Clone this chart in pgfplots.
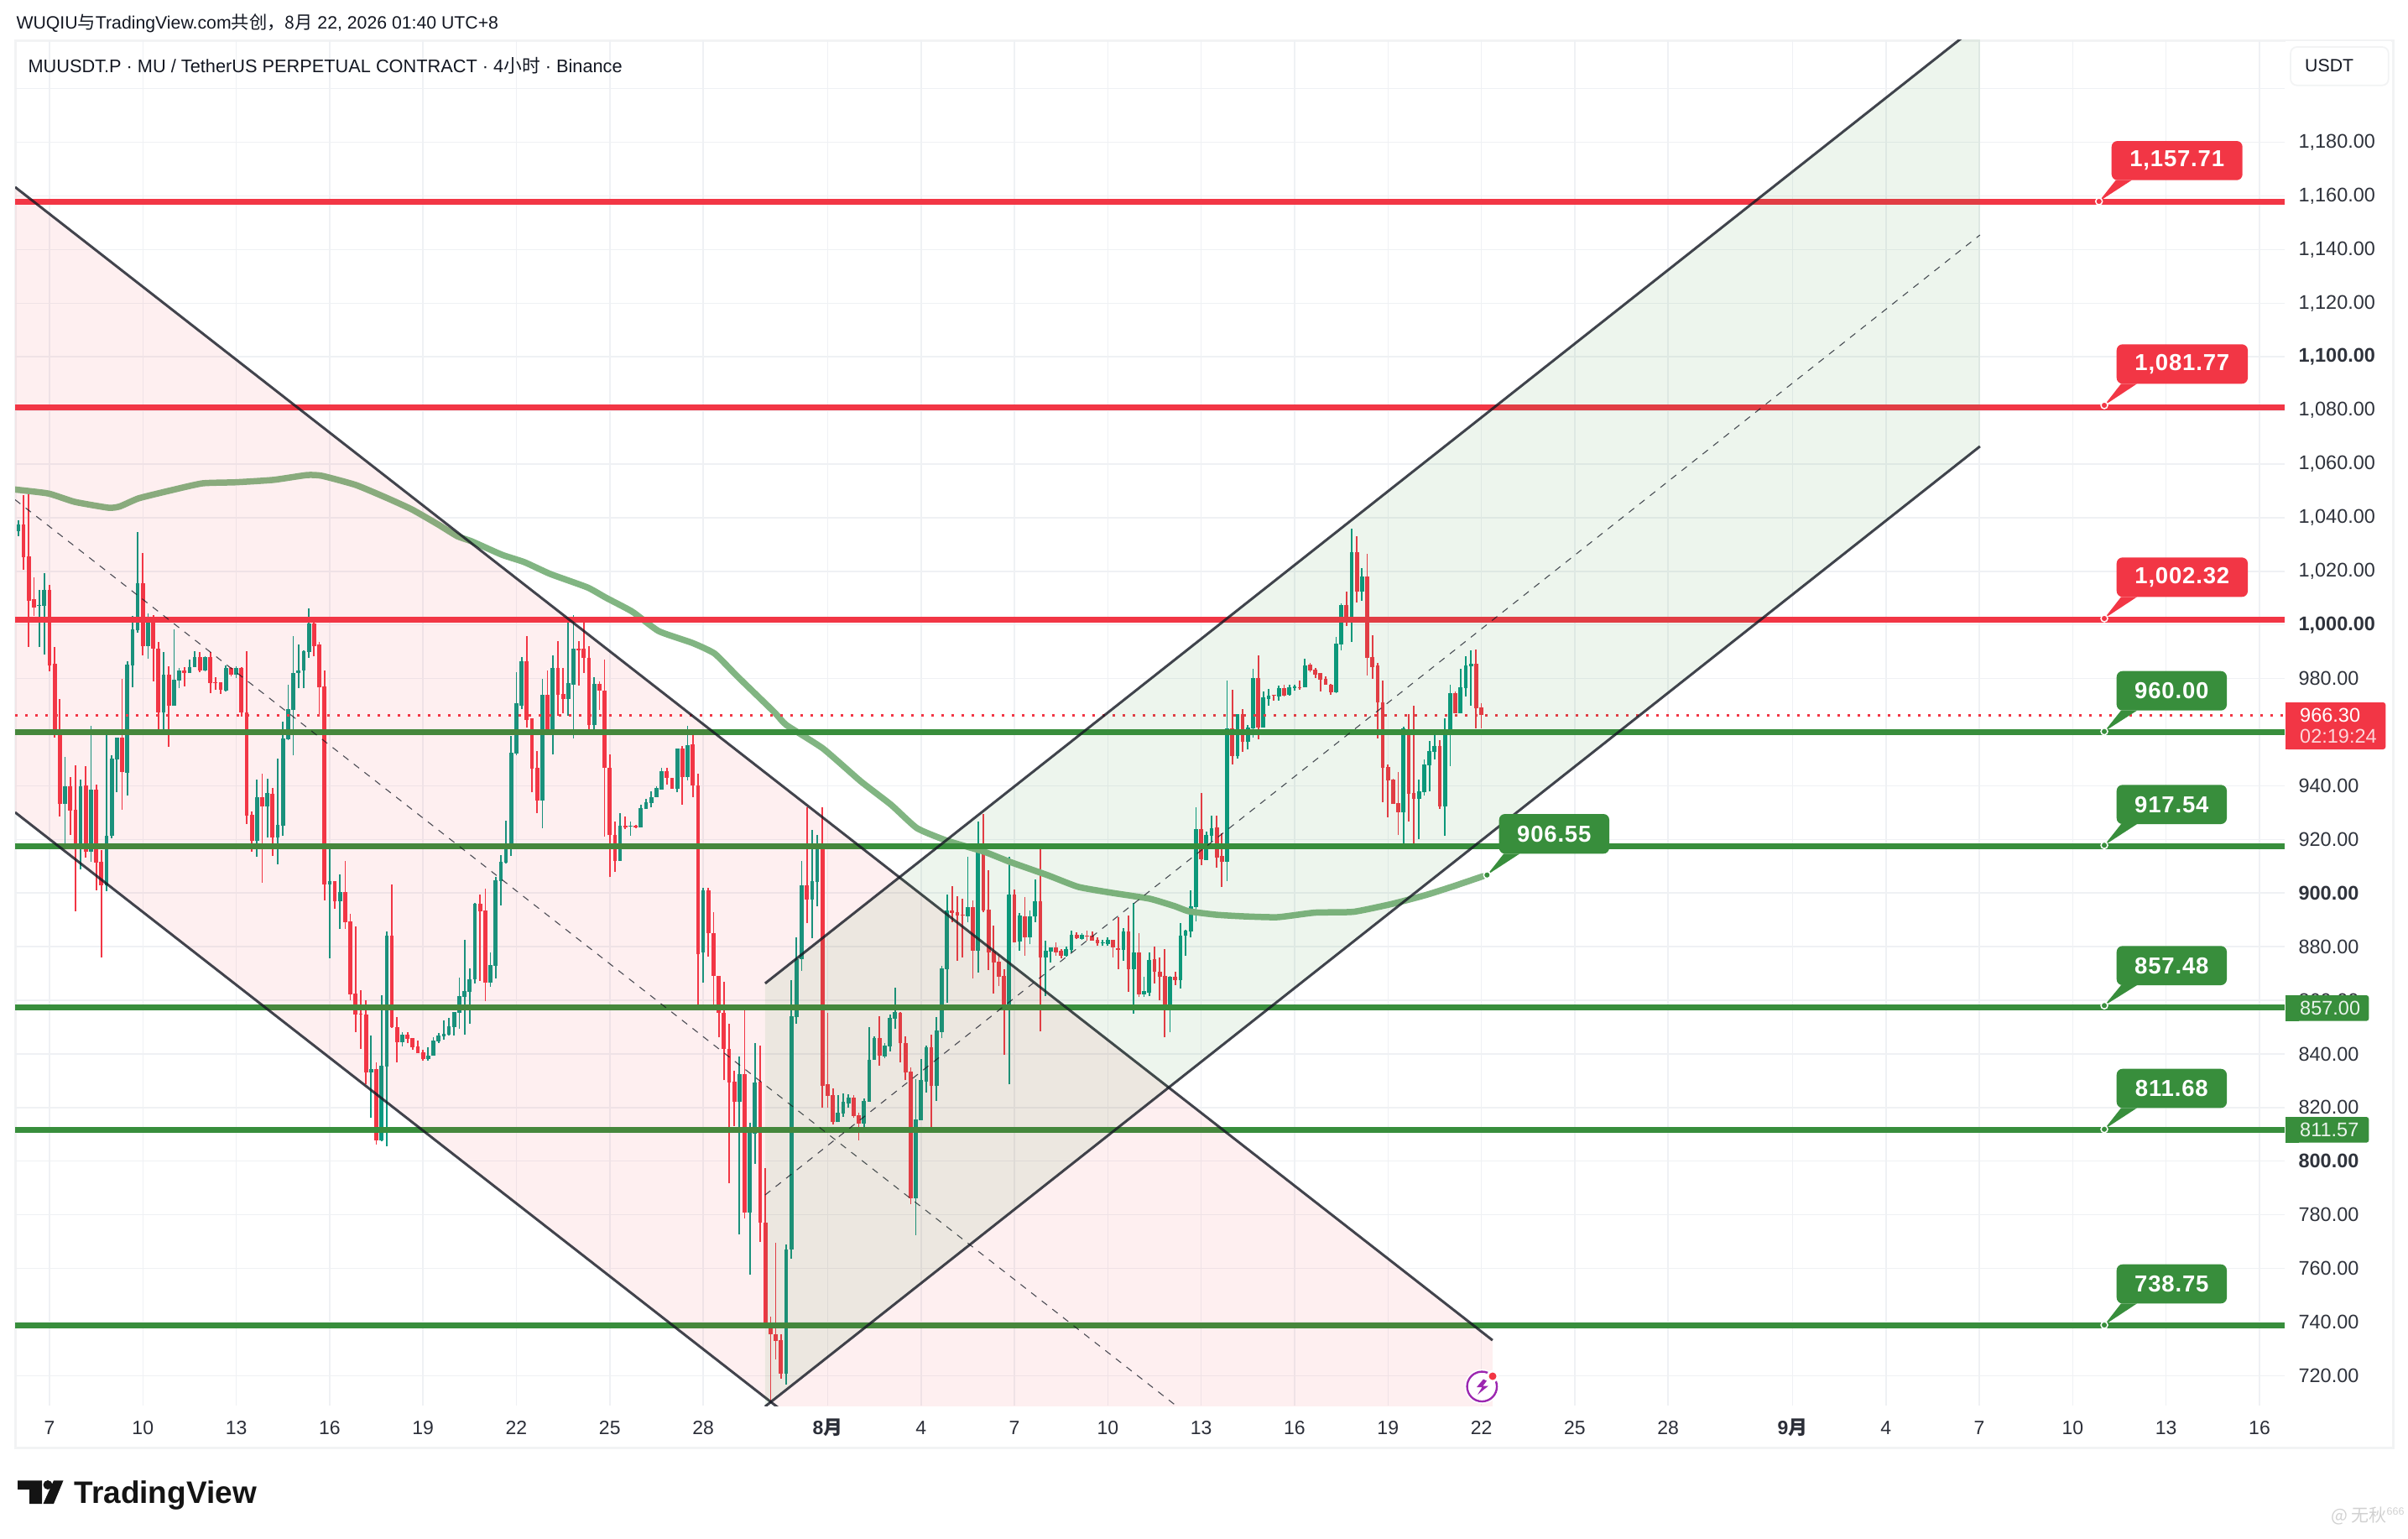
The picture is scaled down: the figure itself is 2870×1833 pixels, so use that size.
\documentclass[border=0pt]{standalone}
\usepackage{pgfplots}
\usepackage{pgfplotstable}
\usepackage{fontspec}
\pgfplotsset{compat=1.18}
\setmainfont{Liberation Sans}
\newfontfamily\cjk{Noto Sans CJK SC}
\newfontfamily\lab[LetterSpace=3]{Liberation Sans}
\definecolor{cg}{HTML}{089981}
\definecolor{cr}{HTML}{F23645}
\definecolor{lg}{HTML}{388E3C}
\definecolor{ma}{HTML}{81B582}
\definecolor{gridc}{HTML}{EFF1F4}
\definecolor{framec}{HTML}{F2F3F4}
\definecolor{txt}{HTML}{131722}
\pgfplotstableread{
i o h l c
0 1035 1039 1033.1 1037.6
1 1037.6 1048.4 1020.5 1025.4
2 1025.7 1050.1 991.8 1009.1
3 1009.5 1017.9 1003.2 1006.6
4 1007 1012.9 991.9 1007.3
5 1007 1019.4 988.9 1012.9
6 1012.9 1015 982.7 984.8
7 985.4 991.9 958 959.9
8 959.9 972.3 928.5 933.1
9 933.1 950.8 918 939.8
10 939.8 943.4 921.8 930.7
11 931 947.8 893.2 918.3
12 918.3 942.3 908.9 939.8
13 940 947.2 913.1 915.5
14 915.5 962.2 911.7 938.5
15 938.5 940.5 901 911.3
16 911.7 915.9 876.1 902.8
17 902.8 959.4 900.8 921.5
18 921.5 951.5 920.5 950.1
19 949.9 958 937.5 957.9
20 957.9 980 931 945.2
21 944.9 986.4 936.3 985.1
22 985 1003.5 976.7 998.2
23 997.9 1034.5 997.1 1015.7
24 1015.7 1026.8 988.7 992.2
25 992.2 1004.2 987.5 1002.7
26 1002.7 1003.8 979 991.1
27 991.2 993.8 961.2 967.5
28 967.5 989.9 961.2 981.5
29 981.5 984.7 954.5 970
30 970 998.2 970 979.5
31 979.1 983.8 976.4 982.9
32 982.9 984.3 977.1 982
33 982 987 982 984.4
34 984.3 990.1 984.3 987.9
35 987.9 989.9 982.3 982.9
36 982.9 988.4 982.6 987.9
37 987.9 989.9 974.5 978.3
38 978.5 980.4 975.9 978.3
39 978.5 978.7 974.2 975.8
40 975.6 984.9 975.2 983.8
41 983.8 984.3 980.8 981.5
42 981.6 984.5 980.1 983.8
43 983.8 984.3 965.8 967.5
44 967.5 990.1 925.7 928.9
45 929.2 930.3 915.3 919.5
46 919.5 942.3 913.5 935.7
47 935.7 944.5 903.9 932.2
48 932.2 942.7 920.6 937.2
49 937.1 939.2 913.8 920.6
50 920.6 950.1 910.7 925.4
51 925.1 963.9 921.2 957.6
52 957.3 977.8 957.1 968.5
53 968.2 995.7 951.3 982
54 982 992.6 976.3 983
55 982.9 990.5 976.3 990.1
56 989.9 1006.2 987.8 1000.4
57 1000.4 1001 988.2 992.2
58 992.6 993.6 966.1 976.6
59 977 982.9 897.2 903.2
60 903.2 917.3 875.7 904.5
61 904.5 904.5 894 896.9
62 896.9 907 886.6 900.4
63 900.4 912 886.6 889.1
64 889.4 892.3 859.9 862.3
65 862.6 887.7 848.2 854.8
66 855.1 863.8 842 854.9
67 854.8 860.1 828.8 833.2
68 833.2 847 816.3 834.5
69 834.5 837 806.3 807.9
70 807.9 862 807.3 835.7
71 835.4 885.8 805.5 884.1
72 884.1 903.2 849.8 850.1
73 850.1 853.8 836.7 844.5
74 844.5 848.2 842.9 847.3
75 847.3 848.2 843.9 845.7
76 846 846 841.4 842.6
77 842.9 845.1 840.4 840.4
78 840.7 841.6 837.4 838.2
79 838.2 842.6 837.4 839.5
80 839.2 846.3 839.2 845.1
81 844.8 847.9 844.2 847
82 846.7 852.6 845.4 847.6
83 847.3 853.5 847 850.4
84 850.1 855.7 847 855.7
85 855.4 868.5 849.5 861.7
86 861.4 882.4 847.3 863.5
87 863.2 872 851.3 867.9
88 867.8 896.4 866.4 896.1
89 896.1 899.4 867.3 893.3
90 893.6 901.7 859.8 866.7
91 866.7 877.9 865.1 873.2
92 872.9 906.1 868.2 904.7
93 904.5 914.1 895.5 911.7
94 911.3 926.9 911 918.4
95 918 958.7 913.7 952.2
96 951.9 982.4 951.5 970.7
97 970 987.9 968.6 986.6
98 986.6 995.7 961.7 964.7
99 965.1 965.1 937.5 946.3
100 946.6 952.9 929.9 934.5
101 934.5 979.8 924.3 973.8
102 973.8 982.9 961.2 961.2
103 961.2 988.7 951.6 983.8
104 983.8 994 966.1 973.8
105 974.2 983.8 967.2 972.5
106 972.5 1001 966.1 978.3
107 977.8 1003.8 957.8 991
108 991 994 977.3 990.5
109 991 1001 982.2 987.6
110 987.7 992 960.9 962.8
111 962.8 980.5 960.9 978.1
112 978.1 978.8 968.3 975.6
113 975.6 987.2 921.1 946.6
114 946.6 951.8 905.9 921.8
115 921.8 926.6 908 912
116 912 929.7 912 925.2
117 925.2 928.7 923.9 924.4
118 924.7 926.8 921.4 925.2
119 925.2 925.5 924.2 924.6
120 924.4 933 924.4 931.7
121 931.4 935.1 931.4 933.8
122 933.6 937.8 931.9 935.9
123 935.7 939.9 935.7 939.2
124 938.6 946.6 938.6 945.4
125 945.4 946.6 940.5 943.1
126 943.1 943.1 938.9 938.9
127 938.9 953.9 937.6 953.9
128 953.9 954.9 933 943.4
129 943.4 962.5 942.1 955.3
130 955.6 959.3 935.9 940.2
131 940.2 944.5 856.5 877.2
132 877.7 901.9 866.5 901
133 901 901.9 876.4 885.2
134 885.2 892.8 858.5 869.1
135 869.1 869.2 846.1 855.2
136 855.4 866.8 830.2 841.8
137 841.8 851.4 791.9 829.4
138 829.5 833.6 813 822
139 822 839 772.7 832.6
140 832.6 856.6 778.6 780.7
141 780.7 814.2 757.8 810.5
142 810.2 844 799.1 829.4
143 829.5 843.2 769.9 777
144 777 797.3 739 739.3
145 739.9 742.1 710.3 735.3
146 735.3 769.6 726.2 732.9
147 733.2 735.3 718.9 720.6
148 720.6 768.8 716.6 767.2
149 767.2 867.6 763.5 854.1
150 853.8 883.6 851.4 875.3
151 875.3 911.9 871.1 902.9
152 902.9 931.9 888.8 897.6
153 897.6 923.6 883.3 904.5
154 904.1 921.7 895.2 916.6
155 916.6 931.9 819.8 828.2
156 828.6 855.4 819.8 824.3
157 824.6 827 813.6 814.5
158 814.5 824.6 814.5 818.2
159 817.9 825.4 816.6 822
160 821.4 824.9 819.8 823.8
161 823.8 824.6 816.1 816.9
162 817.1 818 807.8 813.9
163 813.9 823.5 812.9 822.5
164 822.2 850.1 822.2 837.8
165 837.8 846.4 837.8 845.9
166 845.8 854.1 835.7 839.3
167 839.1 844 838.4 843.2
168 842.9 854.6 841 853.3
169 853 864.8 849.3 855.7
170 855.4 855.7 836.9 844
171 844.2 846.4 830.2 833.2
172 833.5 834.9 783.9 786.3
173 786.3 830.6 772.4 815.5
174 815.3 838.1 815.3 830.2
175 829.8 843.2 825.7 842.6
176 842.6 847.1 812.9 828
177 828 853.8 822.5 848.8
178 848.2 872.7 845.8 871.9
179 871.6 899.5 859.2 893.6
180 893.6 902.5 889.2 892.7
181 892.8 898.7 874.8 891.6
182 892 897.9 876 891.6
183 891.4 913.4 889.2 894.7
184 894.7 897.4 868.1 878.5
185 878.5 926.6 870.3 915.5
186 915.5 929.5 892.8 893.6
187 893.9 908.6 871.3 877.8
188 878.1 887.9 862.5 874.2
189 874.5 877.2 865.2 868.7
190 869.1 871.6 839.7 857.8
191 856.1 913.4 828.6 899.5
192 899.5 901.4 881.5 881.5
193 881.8 892.7 878.5 891.5
194 891.4 898.6 876.7 883.4
195 883.6 893.5 880.9 891.4
196 891.2 905.1 889.2 897
197 897 918.2 848.3 876.1
198 876.1 882.3 861.6 878.5
199 878.1 879.7 874 879.7
200 879.7 881.5 876.7 878
201 878.5 879.1 875.6 876.7
202 876.7 880.1 876.4 879.1
203 878.8 886 878 884.5
204 884.5 885.3 882.8 883.3
205 882.9 885.2 882.6 884.5
206 884.2 886 882.1 883.7
207 884.2 885.7 882.3 882.3
208 882.6 883.6 880.2 881.2
209 881.2 882.5 880.2 881.7
210 881 883.6 880.2 882.5
211 882.5 882.5 876.1 879.6
212 879.4 891.1 871.6 878.9
213 878.8 886.8 874.8 885.6
214 885.6 891.5 863.2 871.6
215 871.6 896.2 854.9 877.8
216 877.8 885 861.3 862.1
217 862.1 868.9 861.3 863.5
218 862.8 877.7 861.6 875.1
219 875.4 880.1 866.3 870.7
220 870.8 876.1 860.1 868.9
221 869.2 879.1 846.1 856.1
222 856.1 869.2 848 868.9
223 868.9 870.8 865.7 867.6
224 867.6 888.8 864.4 884.2
225 884.1 886.4 876.7 886.1
226 885.6 900.9 883.6 895.1
227 894.7 932 889.5 923.8
228 923.9 937.3 910.4 912.6
229 912.3 923 912.3 921.7
230 921.5 928.9 919.1 924.2
231 924.5 929 909.4 913.2
232 913.7 922.3 902.4 911.6
233 911.7 979.2 904.5 961.4
234 961.4 975.8 947.9 951.2
235 951.1 966.7 950.2 966.7
236 966.7 968.6 952.7 956.4
237 956.4 962.8 953.6 961.7
238 961.4 983.7 957.9 980.1
239 980.1 988.6 957.5 961.7
240 961.7 975.1 961.7 973
241 972.5 976 970 973.7
242 973.9 973.9 971.8 973.7
243 973.2 977.3 971.8 976.5
244 976.5 977.8 973.2 973.7
245 973.9 977.7 973.7 976.6
246 976.5 977.8 975.6 977
247 976.9 979.1 975.8 976.6
248 976.6 987.3 976.6 985
249 985.1 985.8 982.3 983
250 983.3 984.1 980.2 981.5
251 982 982 975.3 979.5
252 979.8 980.9 977.6 977.6
253 977.8 978.1 973.9 975
254 975 995.4 974.5 992.9
255 992.6 1008 990.4 1007.4
256 1007.4 1012.3 999.7 1002.1
257 1002.1 1036 993.5 1027
258 1027 1033 1008.5 1012.3
259 1012.3 1021.1 1009.1 1018.2
260 1018.2 1026.4 981.2 987.6
261 987.9 996.3 980 984.4
262 984.8 985.9 957.8 971
263 971.1 979.1 933.9 946.6
264 947 947.9 928.2 942
265 942.3 942.6 933.2 933.2
266 933.5 945.1 921.6 930.1
267 930.1 961.9 918.4 961.4
268 959.3 966.6 926.8 937
269 937.3 970 916.7 935.2
270 935.2 942.3 920.2 937.9
271 937.7 949.8 936.3 947.9
272 947.6 956.6 937.9 952.9
273 952.7 959.6 949.7 954.7
274 954.8 956.9 931.4 932.4
275 932.4 965.3 921.2 959.7
276 960 977.8 947.4 974.5
277 974.5 975.3 967 967.2
278 967.2 983.6 967 976.6
279 976.5 988.2 973.4 984.8
280 984.5 990.4 970 985.6
281 985.6 990.7 961.4 968.8
282 969.1 970.7 961.4 966.3
}\ohlc
\pgfplotstableread{
d p
-1.105 1050.5
-0.03 1049.0
0.81 1045.9
1.90 1043.7
2.26 1044.2
2.86 1047.2
3.83 1050
4.91 1052.8
5.98 1053.2
7.20 1054.1
8.27 1055.9
8.76 1055.6
9.84 1052.2
10.81 1047.5
11.64 1043.1
12.48 1037.5
13.10 1033.1
13.56 1031.2
14.53 1026.2
15.26 1023.4
16.09 1019
17.28 1014
17.87 1010.2
18.73 1004.9
19.57 997.7
20.65 993.3
21.37 989.3
22.10 980.8
23.29 967.4
23.67 962.7
24.85 953.9
26.06 941.7
27.04 932.9
27.87 924.2
28.84 919.5
30.03 915.4
30.86 911.6
32.08 906.6
33.05 902.3
34.12 900.1
35.34 897.9
36.15 895.1
36.60 893.2
37.49 891.9
38.38 891.3
39.46 891
40.65 892.7
41.89 893
43.15 896
44.23 899.3
45.12 902.6
46.06 906.3
}\maline
\newcommand\callout[7]{%
  \fill[#7] ({#1},{#2}) -- ({#1+20},{#6}) -- ({#1+39},{#6}) -- cycle;
  \fill[#7,rounded corners=2.8pt] ({#3},{#4}) rectangle ({#5},{#6});
  \fill[#7,draw=white,line width=0.6pt] ({#1},{#2}) circle (1.6pt);
}
\newcommand\tag[4]{%
  \fill[#4,rounded corners=1.2pt] (2724,{#1}) rectangle ({#3},{#2});
  \fill[#4] (2724,{#1}) rectangle (2740,{#2});
}
\pgfplotsset{
  wick/.style={draw=none,no markers,forget plot,error bars/.cd,y dir=plus,y explicit,error mark=none,error bar style={draw=#1,line width=0.7pt,solid}},
  body/.style={draw=none,no markers,forget plot,error bars/.cd,y dir=plus,y explicit,error mark=none,error bar style={draw=#1,line width=1.9pt,solid}},
}
\begin{document}
\begin{tikzpicture}
\begin{scope}[x=0.4pt,y=-0.4pt]
\path (0,0) rectangle (2870,1833);
\draw[framec,line width=1.2pt] (18,48) rectangle (2852,1725);
\end{scope}
\begin{axis}[
  at={(7.2pt,-670pt)},anchor=south west,
  scale only axis,width=1082pt,height=650.8pt,
  xmin=-1.105,xmax=71.81,ymin=708.83,ymax=1218.06,
  axis line style={draw=none},
  major tick length=0pt,
  tick style={draw=none},
  grid=major,
  grid style={gridc,line width=0.6pt},
  xtick={0,3,6,9,12,15,18,21,25,28,31,34,37,40,43,46,49,52,56,59,62,65,68,71},
  xticklabels={7,10,13,16,19,22,25,28,{\textbf{8}{\cjk\bfseries 月}},4,7,10,13,16,19,22,25,28,{\textbf{9}{\cjk\bfseries 月}},4,7,10,13,16},
  ytick={720,740,...,1200},
  yticklabels={720.00,740.00,760.00,780.00,\textbf{800.00},820.00,840.00,860.00,880.00,\textbf{900.00},920.00,940.00,{},980.00,\textbf{{1,000.00}},{1,020.00},{1,040.00},{1,060.00},{1,080.00},\textbf{{1,100.00}},{1,120.00},{1,140.00},{1,160.00},{1,180.00},{}},
  yticklabel pos=right,
  yticklabel style={anchor=west,xshift=6.4pt,font=\fontsize{9.4}{11}\selectfont,text=txt!88!white,inner sep=0pt},
  xticklabel style={anchor=base,yshift=-13.8pt,font=\fontsize{9.2}{11}\selectfont,text=txt!90!white,inner sep=0pt},
  clip=true,
]
% candles: wicks and bodies from the OHLC table
\addplot[wick=cr] table[x expr=(\thisrow{i}-6)/6,y expr={\thisrow{c}<\thisrow{o}?\thisrow{l}:nan},y error expr=\thisrow{h}-\thisrow{l}]{\ohlc};
\addplot[wick=cg] table[x expr=(\thisrow{i}-6)/6,y expr={\thisrow{c}>\thisrow{o}?\thisrow{l}:nan},y error expr=\thisrow{h}-\thisrow{l}]{\ohlc};
\addplot[body=cr] table[x expr=(\thisrow{i}-6)/6,y expr={\thisrow{c}<\thisrow{o}?\thisrow{c}:nan},y error expr=\thisrow{o}-\thisrow{c}]{\ohlc};
\addplot[body=cg] table[x expr=(\thisrow{i}-6)/6,y expr={\thisrow{c}>\thisrow{o}?\thisrow{o}:nan},y error expr=\thisrow{c}-\thisrow{o}]{\ohlc};
% moving average
\addplot[ma,line width=3pt,smooth,tension=0.3,line cap=round] table[x=d,y=p]{\maline};
% last price
\addplot[cr,line width=1.3pt,dash pattern=on 1.3pt off 3.5pt] coordinates {(-1.105,966.3)(71.81,966.3)};
% horizontal levels
\addplot[cr,line width=2.8pt] coordinates {(-1.105,1157.71)(71.81,1157.71)};
\addplot[cr,line width=2.8pt] coordinates {(-1.105,1081.2)(71.81,1081.2)};
\addplot[cr,line width=2.8pt] coordinates {(-1.105,1002.0)(71.81,1002.0)};
\addplot[lg,line width=2.8pt] coordinates {(-1.105,960)(71.81,960)};
\addplot[lg,line width=2.8pt] coordinates {(-1.105,917.54)(71.81,917.54)};
\addplot[lg,line width=2.8pt] coordinates {(-1.105,857.3)(71.81,857.3)};
\addplot[lg,line width=2.8pt] coordinates {(-1.105,811.68)(71.81,811.68)};
\addplot[lg,line width=2.8pt] coordinates {(-1.105,738.75)(71.81,738.75)};
% falling channel
\addplot[fill=cr,fill opacity=0.08,draw=none] coordinates {(-1.105,1163.3)(46.36,733.2)(46.36,500.2)(-1.105,930.1)} --cycle;
\addplot[txt,opacity=0.8,line width=1.2pt] coordinates {(-1.105,1163.3)(46.36,733.2)};
\addplot[txt,opacity=0.8,line width=1.2pt] coordinates {(-1.105,930.1)(46.36,500.2)};
\addplot[txt,opacity=0.75,line width=0.45pt,dash pattern=on 3.2pt off 3.2pt] coordinates {(-1.105,1046.7)(46.36,616.7)};
% rising channel
\addplot[fill=lg,fill opacity=0.09,draw=none] coordinates {(22.99,866.3)(62.02,1224.3)(62.02,1066.6)(22.99,708.5)} --cycle;
\addplot[txt,opacity=0.8,line width=1.2pt] coordinates {(22.99,866.3)(62.02,1224.3)};
\addplot[txt,opacity=0.8,line width=1.2pt] coordinates {(22.99,708.5)(62.02,1066.6)};
\addplot[txt,opacity=0.75,line width=0.45pt,dash pattern=on 3.2pt off 3.2pt] coordinates {(22.99,787.4)(62.02,1145.45)};
\end{axis}
\begin{scope}[x=0.4pt,y=-0.4pt]
\fill[white] (2724,48.5) rectangle (2850,120);
\callout{2501.7}{240}{2516.7}{168}{2672.7}{214.7}{cr}
\node[text=white,font=\lab\bfseries\fontsize{11}{13}\selectfont] at (2594.7,191.3) {1,157.71};
\callout{2508}{483}{2522.7}{410.3}{2679}{457.3}{cr}
\node[text=white,font=\lab\bfseries\fontsize{11}{13}\selectfont] at (2600.8,433.8) {1,081.77};
\callout{2508}{737}{2522.7}{664.3}{2679}{711.3}{cr}
\node[text=white,font=\lab\bfseries\fontsize{11}{13}\selectfont] at (2600.8,687.8) {1,002.32};
\callout{2508}{871.7}{2522.7}{799.7}{2654}{846.7}{lg}
\node[text=white,font=\lab\bfseries\fontsize{11}{13}\selectfont] at (2588.3,823.2) {960.00};
\callout{2508}{1007.3}{2522.7}{935.3}{2654}{982}{lg}
\node[text=white,font=\lab\bfseries\fontsize{11}{13}\selectfont] at (2588.3,958.7) {917.54};
\callout{2508}{1198.3}{2522.7}{1127.3}{2654}{1174}{lg}
\node[text=white,font=\lab\bfseries\fontsize{11}{13}\selectfont] at (2588.3,1150.7) {857.48};
\callout{2508}{1345.7}{2522.7}{1273.7}{2654}{1320.3}{lg}
\node[text=white,font=\lab\bfseries\fontsize{11}{13}\selectfont] at (2588.3,1297) {811.68};
\callout{2508}{1579}{2522.7}{1506.7}{2654}{1553.3}{lg}
\node[text=white,font=\lab\bfseries\fontsize{11}{13}\selectfont] at (2588.3,1530) {738.75};
\callout{1772.3}{1042.7}{1786.7}{970}{1918}{1017.3}{lg}
\node[text=white,font=\lab\bfseries\fontsize{11}{13}\selectfont] at (1852.3,993.7) {906.55};
\tag{837}{893}{2843.3}{cr}
\node[anchor=west,inner sep=0pt,text=white,font=\fontsize{9.4}{11}\selectfont] at (2740.7,852.3) {966.30};
\node[anchor=west,inner sep=0pt,text=white!80!cr,font=\fontsize{9.4}{11}\selectfont] at (2740.7,877.3) {02:19:24};
\tag{1186}{1216.7}{2823.3}{lg}
\node[anchor=west,inner sep=0pt,text=white!90!lg,font=\fontsize{9.4}{11}\selectfont] at (2740.7,1201.3) {857.00};
\tag{1331}{1361.7}{2823.3}{lg}
\node[anchor=west,inner sep=0pt,text=white!90!lg,font=\fontsize{9.4}{11}\selectfont] at (2740.7,1346.3) {811.57};
\draw[framec,line width=0.7pt,rounded corners=3pt] (2730,56) rectangle (2846.7,101.7);
\node[anchor=west,inner sep=0pt,text=txt,font=\fontsize{8.5}{10}\selectfont] at (2746.7,78) {USDT};
\node[anchor=west,inner sep=0pt,text=txt,font=\fontsize{8.5}{10}\selectfont] at (19,28) {WUQIU{\cjk 与}TradingView.com{\cjk 共创，8月} 22, 2026 01:40 UTC+8};
\node[anchor=west,inner sep=0pt,text=txt,font=\fontsize{8.7}{10}\selectfont] at (33,78) {MUUSDT.P · MU / TetherUS PERPETUAL CONTRACT · 4{\cjk 小时} · Binance};
\fill[white] (1766.3,1652.3) circle (8.2pt);
\draw[color={rgb,255:red,156;green,39;blue,176},line width=0.95pt] (1766.3,1652.3) circle (7.1pt);
\fill[color={rgb,255:red,156;green,39;blue,176}] (1768,1643.5) -- (1760,1653) -- (1766.5,1653) -- (1761,1662) -- (1774,1651.5) -- (1767.5,1651.5) -- (1772,1645.5) -- cycle;
\fill[white] (1779,1640) circle (2.9pt);
\fill[cr] (1779,1640) circle (1.8pt);
\fill[black!92] (21,1764.3) -- (50,1764.3) -- (50,1792) -- (35,1792) -- (35,1775) -- (21,1775) -- cycle;
\fill[black!92] (57,1769.5) circle (2.2pt);
\fill[black!92] (64,1764.3) -- (75.5,1764.3) -- (64,1792) -- (51.5,1792) -- cycle;
\node[anchor=base west,inner sep=0pt,text=black!92,font=\bfseries\fontsize{14.8}{16}\selectfont] at (88,1791.7) {TradingView};
\node[anchor=east,inner sep=0pt,text=black!18,font=\fontsize{8.4}{10}\selectfont] at (2866,1806) {{\cjk @ 无秋}\raisebox{3pt}{\fontsize{5}{6}\selectfont 666}};
\end{scope}
\end{tikzpicture}
\end{document}
